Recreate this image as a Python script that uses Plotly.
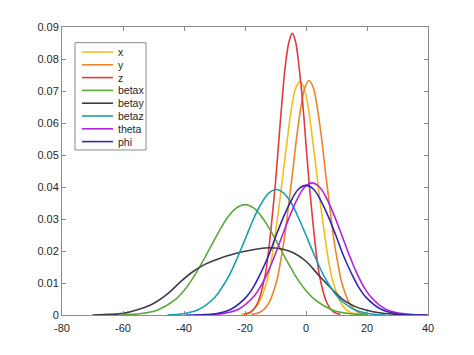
import plotly.graph_objects as go

# ---- data ----
names = ["x", "y", "z", "betax", "betay", "betaz", "theta", "phi"]
colors = ["#F0BF1E", "#E8862A", "#E03C3C", "#5AAA3A", "#3B3E48", "#1C9EB3", "#B424D6", "#2E28B2"]

x_x = [-21.3, -18.5, -15.8, -13.0, -11.6, -10.3, -8.9, -7.5, -6.1, -4.8, -3.4, -2.0, -0.6, 0.8, 2.1, 3.5, 4.9, 6.3, 7.6, 9.0, 11.8, 14.5, 17.3]
x_y = [0.0002, 0.0008, 0.0032, 0.0099, 0.0158, 0.0237, 0.0334, 0.0443, 0.0551, 0.0644, 0.0708, 0.0730, 0.0708, 0.0644, 0.0551, 0.0443, 0.0334, 0.0237, 0.0158, 0.0099, 0.0032, 0.0008, 0.0002]

y_x = [-17.9, -15.2, -12.5, -9.8, -8.5, -7.1, -5.8, -4.4, -3.1, -1.7, -0.4, 1.0, 2.4, 3.7, 5.1, 6.4, 7.8, 9.1, 10.5, 11.8, 14.5, 17.2, 19.9]
y_y = [0.0002, 0.0008, 0.0032, 0.0099, 0.0159, 0.0238, 0.0336, 0.0445, 0.0553, 0.0647, 0.0710, 0.0733, 0.0710, 0.0647, 0.0553, 0.0445, 0.0336, 0.0238, 0.0159, 0.0099, 0.0032, 0.0008, 0.0002]

z_x = [-20.3, -18.0, -15.8, -13.5, -12.4, -11.3, -10.1, -9.0, -7.9, -6.8, -5.6, -4.5, -3.4, -2.3, -1.1, 0.0, 1.1, 2.3, 3.4, 4.5, 6.8, 9.0, 11.3]
z_y = [0.0002, 0.0010, 0.0039, 0.0119, 0.0190, 0.0286, 0.0403, 0.0534, 0.0664, 0.0777, 0.0853, 0.0880, 0.0853, 0.0777, 0.0664, 0.0534, 0.0403, 0.0286, 0.0190, 0.0119, 0.0039, 0.0010, 0.0002]

betax_x = [-60.3, -54.5, -48.8, -43.0, -40.1, -37.3, -34.4, -31.5, -28.6, -25.8, -22.9, -20.0, -17.1, -14.3, -11.4, -8.5, -5.6, -2.8, 0.1, 3.0, 8.8, 14.5, 20.3]
betax_y = [0.0001, 0.0004, 0.0015, 0.0047, 0.0075, 0.0112, 0.0158, 0.0209, 0.0260, 0.0304, 0.0334, 0.0345, 0.0334, 0.0304, 0.0260, 0.0209, 0.0158, 0.0112, 0.0075, 0.0047, 0.0015, 0.0004, 0.0001]

betay_x = [-70, -65, -60, -55, -50, -45, -41, -37, -33, -28, -24, -20, -16, -12, -8, -4, 0, 4, 8, 12, 16, 20, 24, 28, 32, 36, 40]
betay_y = [0.0000, 0.0002, 0.0005, 0.0017, 0.0036, 0.0069, 0.0105, 0.0136, 0.0159, 0.0178, 0.0190, 0.0199, 0.0206, 0.0210, 0.0206, 0.0194, 0.0168, 0.0126, 0.0086, 0.0049, 0.0027, 0.0015, 0.0007, 0.0003, 0.0001, 0.0000, 0.0000]

betaz_x = [-45.4, -40.3, -35.2, -30.1, -27.6, -25.0, -22.5, -19.9, -17.4, -14.8, -12.3, -9.7, -7.2, -4.6, -2.1, 0.5, 3.1, 5.6, 8.2, 10.7, 15.8, 20.9, 26.0]
betaz_y = [0.0001, 0.0004, 0.0017, 0.0053, 0.0085, 0.0127, 0.0179, 0.0238, 0.0296, 0.0346, 0.0380, 0.0392, 0.0380, 0.0346, 0.0296, 0.0238, 0.0179, 0.0127, 0.0085, 0.0053, 0.0017, 0.0004, 0.0001]

theta_x = [-36.6, -31.8, -27.0, -22.1, -17.3, -14.9, -12.5, -10.1, -7.7, -5.2, -2.8, -0.4, 2.0, 4.4, 6.8, 9.2, 11.7, 14.1, 16.5, 18.9, 21.3, 26.1, 31.0, 35.8, 40.0]
theta_y = [0.0000, 0.0001, 0.0005, 0.0018, 0.0056, 0.0089, 0.0134, 0.0189, 0.0250, 0.0312, 0.0364, 0.0400, 0.0413, 0.0400, 0.0364, 0.0312, 0.0250, 0.0189, 0.0134, 0.0089, 0.0056, 0.0018, 0.0005, 0.0001, 0.0000]

phi_x = [-39.4, -34.5, -29.6, -24.6, -19.7, -17.2, -14.8, -12.3, -9.9, -7.4, -4.9, -2.5, 0.0, 2.5, 4.9, 7.4, 9.9, 12.3, 14.8, 17.2, 19.7, 24.6, 29.6, 34.5, 39.4]
phi_y = [0.0000, 0.0001, 0.0004, 0.0018, 0.0055, 0.0088, 0.0132, 0.0185, 0.0246, 0.0306, 0.0357, 0.0393, 0.0405, 0.0393, 0.0357, 0.0306, 0.0246, 0.0185, 0.0132, 0.0088, 0.0055, 0.0018, 0.0004, 0.0001, 0.0000]

x_ticks = [-80, -60, -40, -20, 0, 20, 40]
x_ticklabels = ["-80", "-60", "-40", "-20", "0", "20", "40"]
y_ticks = [0, 0.01, 0.02, 0.03, 0.04, 0.05, 0.06, 0.07, 0.08, 0.09]
y_ticklabels = ["0", "0.01", "0.02", "0.03", "0.04", "0.05", "0.06", "0.07", "0.08", "0.09"]

series = [(x_x, x_y), (y_x, y_y), (z_x, z_y), (betax_x, betax_y), (betay_x, betay_y),
          (betaz_x, betaz_y), (theta_x, theta_y), (phi_x, phi_y)]

FONT = "Liberation Sans, Arial, Helvetica"
AXIS_GRAY = "#8A8A8A"
TEXT_GRAY = "#262626"

fig = go.Figure()
for name, color, (xs, ys) in zip(names, colors, series):
    fig.add_trace(go.Scatter(x=xs, y=ys, mode="lines", name=name, showlegend=False,
                             line=dict(color=color, width=1.6, shape="spline", smoothing=1.0)))

# compact MATLAB-style legend (box, line samples, labels) in paper coordinates
plot_w, plot_h = 366.0, 288.0
box_x0, box_x1 = 13 / plot_w, 84 / plot_w
box_y1, box_y0 = 1 - 15.7 / plot_h, 1 - 123 / plot_h
line_x0, line_x1 = 20 / plot_w, 51 / plot_w
text_x = 54 / plot_w
row_top, row_step = 25.0, 12.8

shapes = [dict(type="rect", xref="paper", yref="paper", x0=box_x0, x1=box_x1, y0=box_y0, y1=box_y1,
               line=dict(color=AXIS_GRAY, width=1), fillcolor="white", layer="above")]
annotations = []
for i, (name, color) in enumerate(zip(names, colors)):
    yy = 1 - (row_top + i * row_step) / plot_h
    shapes.append(dict(type="line", xref="paper", yref="paper", x0=line_x0, x1=line_x1, y0=yy, y1=yy,
                       line=dict(color=color, width=1.6), layer="above"))
    annotations.append(dict(xref="paper", yref="paper", x=text_x, y=yy, text=name, showarrow=False,
                            xanchor="left", yanchor="middle",
                            font=dict(family=FONT, size=10.5, color=TEXT_GRAY)))

axis_common = dict(showgrid=False, zeroline=False, showline=True, mirror="ticks",
                   linecolor=AXIS_GRAY, linewidth=1, ticks="inside", ticklen=4,
                   tickcolor=AXIS_GRAY, tickfont=dict(family=FONT, size=11, color=TEXT_GRAY))

fig.update_layout(
    width=458, height=339,
    margin=dict(l=54, r=38, t=19, b=32),
    paper_bgcolor="white", plot_bgcolor="white",
    showlegend=False,
    shapes=shapes, annotations=annotations,
    xaxis=dict(range=[-80, 40], tickvals=x_ticks, ticktext=x_ticklabels,
               ticklabelstandoff=3, **axis_common),
    yaxis=dict(range=[0, 0.09], tickvals=y_ticks, ticktext=y_ticklabels, **axis_common),
)

fig.write_html("out.html")
